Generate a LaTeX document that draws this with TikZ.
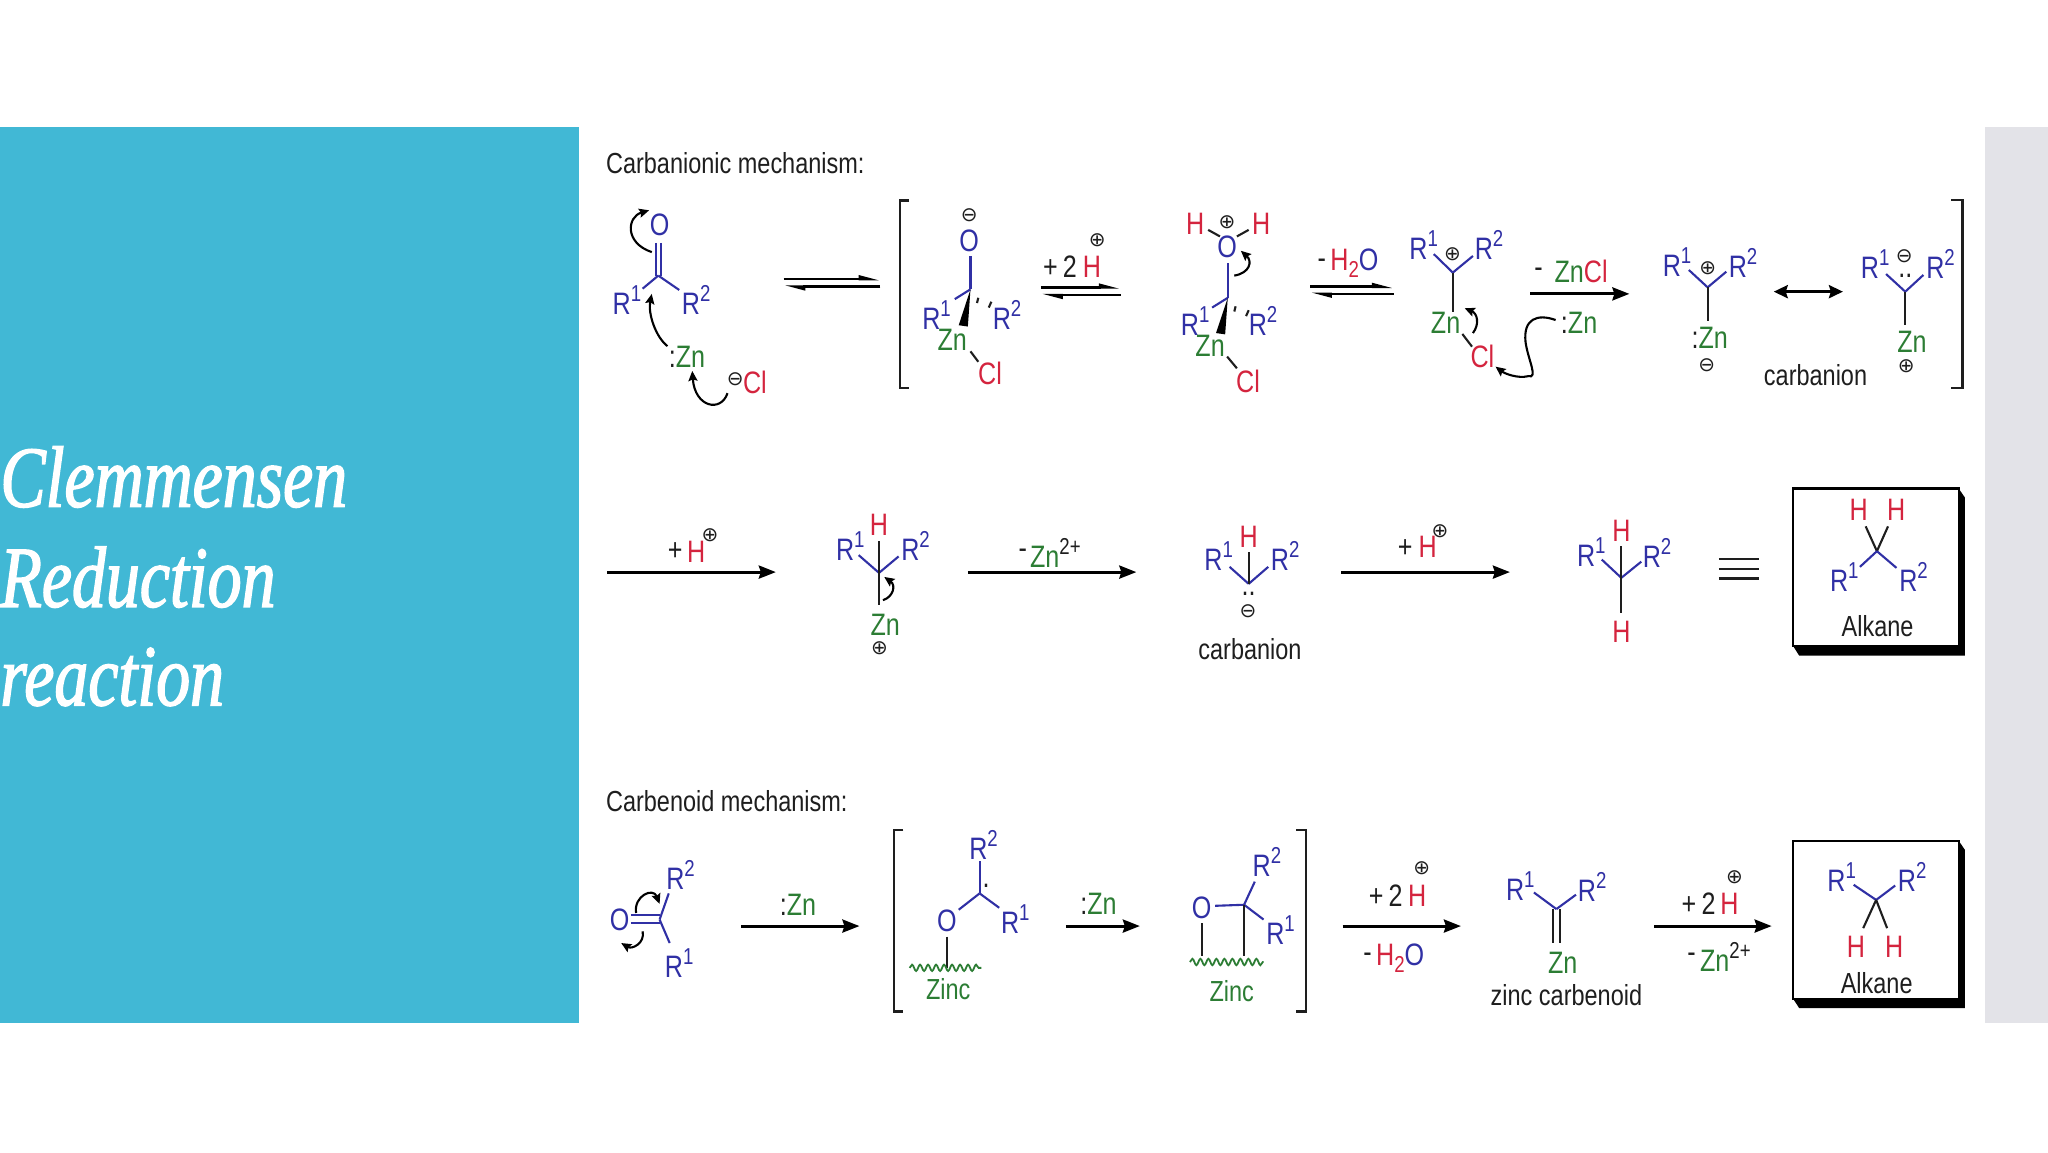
\documentclass[tikz,border=0pt]{standalone}
\usepackage{fontspec}
\usetikzlibrary{arrows.meta,decorations.pathmorphing}
\setmainfont[FakeStretch=0.81]{Liberation Sans}
\newfontfamily\titlefont[FakeStretch=0.78,FakeBold=1.6]{Liberation Serif Italic}
\newfontfamily\symfont{DejaVu Sans}
\definecolor{cblue}{RGB}{48,48,165}
\definecolor{cred}{RGB}{212,36,62}
\definecolor{cgreen}{RGB}{44,125,52}
\definecolor{cink}{RGB}{30,30,30}
\definecolor{panel}{RGB}{65,184,213}
\definecolor{band}{RGB}{227,227,232}
\newcommand\mysup[1]{\raisebox{.42em}{\fontsize{11.5}{11.5}\selectfont #1}}
\newcommand\mysub[1]{\raisebox{-.22em}{\fontsize{11.5}{11.5}\selectfont #1}}
\newcommand\Ra{R\mysup{1}}
\newcommand\Rb{R\mysup{2}}
\newcommand\Hh{\textcolor{cred}{H}}
\newcommand\Znc{\textcolor{cgreen}{Zn}}
\newcommand\Water{\textcolor{cred}{H\mysub{2}}\textcolor{cblue}{O}}
% label: style, name, position, text
\newcommand\at[4]{\node[#1] (#2) at (#3) {#4};}
% bond: colour, from, new end name, end position
\newcommand\bd[4]{\coordinate (#3) at (#4); \draw[bond,#1] (#2) -- (#3);}
% two-ended line with named coordinates
\newcommand\seg[5]{\coordinate (#2a) at (#3); \coordinate (#2b) at (#4); \draw[#1] (#2a) -- (#2b);}
\newcommand\plusm[2]{\node[sym] (#1) at (#2) {⊕};}
\newcommand\minusm[2]{\node[sym] (#1) at (#2) {⊖};}
% reaction arrow
\newcommand\rxn[4]{\coordinate (#1a) at (#2,#4); \coordinate (#1b) at (#3,#4); \draw[rarrow] (#1a) -- (#1b);}
% equilibrium arrows
\newcommand\eqm[5]{\coordinate (#1a) at (#2,#4); \coordinate (#1b) at (#3,#4); \coordinate (#1c) at (#2,#5); \coordinate (#1d) at (#3,#5);
  \draw[harp] (#1a) -- (#1b); \draw[harp] (#1d) -- (#1c);}
% square bracket: name, x, tick x, top y, bottom y
\newcommand\brk[5]{\coordinate (#1a) at (#3,#4); \coordinate (#1b) at (#2,#4); \coordinate (#1c) at (#2,#5); \coordinate (#1d) at (#3,#5);
  \draw[bracket] (#1a) -- (#1b) -- (#1c) -- (#1d);}
% framed box with shadow: name, top, bottom, shadow bottom
\newcommand\shadowbox[4]{\coordinate (#1nw) at (1372.8,#2); \coordinate (#1ne) at (1499.6,#2); \coordinate (#1se) at (1499.6,#3); \coordinate (#1sw) at (1372.8,#3);
  \coordinate (#1s1) at (1504.4,#2+7); \coordinate (#1s2) at (1504.4,#4); \coordinate (#1s3) at (1377.5,#4);
  \fill[black] (#1ne) -- (#1s1) -- (#1s2) -- (#1s3) -- (#1sw) -- (#1se) -- cycle;
  \draw[black,line width=1.1pt,fill=white] (#1nw) rectangle (#1se);}
\tikzset{
  atom/.style={inner sep=0pt,outer sep=0pt,font=\fontsize{15.5}{17}\selectfont},
  rr/.style={atom,text=cblue},
  hh/.style={atom,text=cred},
  zz/.style={atom,text=cgreen},
  ink/.style={atom,text=cink},
  word/.style={inner sep=0pt,outer sep=0pt,font=\fontsize{14.5}{16}\selectfont,text=cink},
  zincword/.style={word,text=cgreen},
  heading/.style={word,anchor=west},
  sym/.style={inner sep=0pt,text=cink,font=\symfont\fontsize{10}{10}\selectfont},
  bond/.style={line width=1.05pt,cink},
  rarrow/.style={line width=1.5pt,black,-{Stealth[length=8.5pt,width=6.5pt,inset=1pt]}},
  bothway/.style={line width=1.5pt,black,{Stealth[length=7pt,width=6.5pt,inset=1pt]}-{Stealth[length=7pt,width=6.5pt,inset=1pt]}},
  harp/.style={line width=1.3pt,black,-{Stealth[harpoon,length=8pt,width=3.6pt,inset=0pt]}},
  curly/.style={line width=1.05pt,black,-{Stealth[length=5pt,width=4.5pt,inset=.8pt]}},
  bracket/.style={line width=1.2pt,cink},
  wavy/.style={line width=.9pt,cgreen,decorate,decoration={snake,segment length=4pt,amplitude=1.6pt}},
  titletext/.style={inner sep=0pt,anchor=base west,text=white,font=\titlefont\fontsize{43.5}{50}\selectfont},
}
\begin{document}
\begin{tikzpicture}[x=0.65306pt,y=-0.65306pt]
\useasboundingbox (0,0) rectangle (1568,882);
\fill[white] (0,0) rectangle (1568,882);
\fill[panel] (0,97) rectangle (443,783);
\fill[band] (1520,97) rectangle (1568,783);
\node[titletext] (t1) at (0,388) {Clemmensen};
\node[titletext] (t2) at (0,464.6) {Reduction};
\node[titletext] (t3) at (0,540) {reaction};

\node[heading] (h1) at (464,125) {Carbanionic mechanism:};
\node[heading] (h2) at (464,613.5) {Carbenoid mechanism:};

%% ---------- Row 1
% ketone
\at{rr}{m1O}{505,172}{O}
\coordinate (m1C) at (504,211);
\seg{bond,cblue}{m1d1}{502.5,186}{502.5,211}{}
\seg{bond,cblue}{m1d2}{506,186}{506,211}{}
\at{rr}{m1a}{480,230}{\Ra}
\at{rr}{m1b}{533,230}{\Rb}
\bd{cblue}{m1C}{m1e1}{492,221}
\bd{cblue}{m1C}{m1e2}{520,222}
\at{zz}{m1Z}{526,273}{\textcolor{cink}{:}Zn}
\minusm{m1m}{563,290}
\at{hh}{m1Cl}{578,293}{Cl}
\coordinate (c1a) at (499,193); \coordinate (c1b) at (497,161);
\draw[curly] (c1a) .. controls (478,186) and (480,166) .. (c1b);
\coordinate (c2a) at (511,265); \coordinate (c2b) at (499,225);
\draw[curly] (c2a) .. controls (502,258) and (496,240) .. (c2b);
\coordinate (c3a) at (557,301); \coordinate (c3b) at (530,284);
\draw[curly] (c3a) .. controls (552,316) and (532,312) .. (c3b);

\eqm{q1}{600}{674}{213.6}{219.5}
\brk{b1}{689}{696}{153.6}{297}

% tetrahedral oxide
\minusm{m2m}{742,165}
\at{rr}{m2O}{742,184}{O}
\coordinate (m2C) at (743,221.5);
\coordinate (m2o) at (743,196);
\draw[bond,cblue] (m2o) -- (m2C);
\at{rr}{m2a}{717,241}{\Ra}
\at{rr}{m2b}{771,241}{\Rb}
\bd{cblue}{m2C}{m2e}{731,229}
\seg{bond}{m2t1}{749,228}{748,232}{}
\seg{bond}{m2t2}{759,231}{757,235.5}{}
\coordinate (m2w1) at (734,249); \coordinate (m2w2) at (741,250);
\fill[black] (m2C) -- (m2w1) -- (m2w2) -- cycle;
\at{zz}{m2Z}{729,260}{Zn}
\seg{bond}{m2c}{743,269}{749,277}{}
\at{hh}{m2Cl}{758,286}{Cl}

\at{ink}{l1}{811.5,204}{+\,2}
\at{hh}{l1H}{836,204}{H}
\plusm{l1p}{840,184}
\eqm{q2}{797}{858}{220}{226}

% oxonium
\at{hh}{m3H1}{915,171}{H}
\plusm{m3p}{939.5,170}
\at{hh}{m3H2}{965.5,171}{H}
\at{rr}{m3O}{939.5,189}{O}
\seg{bond}{m3o1}{925,176}{934,181}{}
\seg{bond}{m3o2}{956,176}{947,181}{}
\coordinate (m3C) at (940,228);
\coordinate (m3o) at (940,201.6);
\draw[bond,cblue] (m3o) -- (m3C);
\at{rr}{m3a}{915,246}{\Ra}
\at{rr}{m3b}{967,246}{\Rb}
\bd{cblue}{m3C}{m3e}{928,235.5}
\seg{bond}{m3t1}{946,234.5}{945,238.5}{}
\seg{bond}{m3t2}{956,237.5}{954,242}{}
\coordinate (m3w1) at (931,255); \coordinate (m3w2) at (938,256);
\fill[black] (m3C) -- (m3w1) -- (m3w2) -- cycle;
\at{zz}{m3Z}{926.5,265}{Zn}
\seg{bond}{m3c}{939.5,273}{947,282}{}
\at{hh}{m3Cl}{955.5,292}{Cl}
\coordinate (c4a) at (945,211); \coordinate (c4b) at (950,192);
\draw[curly] (c4a) .. controls (957,209) and (959,200) .. (c4b);

\at{ink}{l2a}{1012,201.6}{-}
\at{atom}{l2b}{1037,201.6}{\Water}
\eqm{q3}{1003}{1067}{219.5}{225}

% cation with ZnCl
\at{rr}{m4a}{1090,187.5}{\Ra}
\at{rr}{m4b}{1140,187.5}{\Rb}
\plusm{m4p}{1112,194.5}
\coordinate (m4C) at (1112.3,208.7);
\bd{cblue}{m4C}{m4e1}{1097.7,194.5}
\bd{cblue}{m4C}{m4e2}{1127.7,196}
\bd{cink}{m4C}{m4e3}{1112.3,238.6}
\at{zz}{m4Z}{1106.8,247.5}{Zn}
\seg{bond}{m4c}{1119.6,255.7}{1127,265.4}{}
\at{hh}{m4Cl}{1135,273}{Cl}
\coordinate (c5a) at (1127.7,255); \coordinate (c5b) at (1121.4,236);
\draw[curly] (c5a) .. controls (1133,248) and (1131,240) .. (c5b);
\at{zz}{m4Y}{1209,247.5}{\textcolor{cink}{:}Zn}
\coordinate (c6a) at (1191,245); \coordinate (c6m) at (1168,262); \coordinate (c6b) at (1145,280.7);
\draw[curly] (c6a) .. controls (1177,240) and (1166,244) .. (c6m) .. controls (1170,276) and (1178,290) .. (1170,288) .. controls (1162,290) and (1152,286) .. (c6b);

\at{ink}{l3a}{1178,209}{-}
\at{atom}{l3b}{1210.5,208}{\Znc\textcolor{cred}{Cl}}
\rxn{a1}{1171.5}{1247.5}{225}

% cation
\at{rr}{m5a}{1284,201}{\Ra}
\at{rr}{m5b}{1334.5,201}{\Rb}
\plusm{m5p}{1307.4,205.4}
\coordinate (m5C) at (1307.4,220);
\bd{cblue}{m5C}{m5e1}{1293,206.7}
\bd{cblue}{m5C}{m5e2}{1321.7,208}
\bd{cink}{m5C}{m5e3}{1307.4,245.5}
\at{zz}{m5Z}{1309,259}{\textcolor{cink}{:}Zn}
\minusm{m5m}{1306.7,279.4}

\coordinate (dbla) at (1358,223.3); \coordinate (dblb) at (1411,223.3);
\draw[bothway] (dbla) -- (dblb);

% carbanion resonance form
\at{rr}{m6a}{1435.7,202}{\Ra}
\at{rr}{m6b}{1485.7,202}{\Rb}
\minusm{m6m}{1458,196}
\at{ink}{m6d}{1458.7,211}{..}
\coordinate (m6C) at (1458.7,223.3);
\bd{cblue}{m6C}{m6e1}{1444,209.8}
\bd{cblue}{m6C}{m6e2}{1472.6,210.5}
\bd{cink}{m6C}{m6e3}{1458.7,248.8}
\at{zz}{m6Z}{1463.8,261.6}{Zn}
\plusm{m6p}{1459.4,280.7}
\at{word}{m6t}{1390,287}{carbanion}
\brk{b2}{1502.5}{1494}{153}{297}

%% ---------- Row 2
\rxn{a2}{465}{594}{438}
\at{ink}{l4a}{517,422.5}{+}
\at{hh}{l4H}{533,422.5}{H}
\plusm{l4p}{543.5,410}

\at{hh}{m7H}{673,402}{H}
\at{rr}{m7a}{651,418}{\Ra}
\at{rr}{m7b}{701,418}{\Rb}
\coordinate (m7C) at (673,438.6);
\bd{cblue}{m7C}{m7e1}{657.4,425}
\bd{cblue}{m7C}{m7e2}{688,426}
\bd{cink}{m7C}{m7e3}{673,414}
\bd{cink}{m7C}{m7e4}{673,463}
\at{zz}{m7Z}{677.8,478.7}{Zn}
\plusm{m7p}{673.4,496.5}
\coordinate (c7a) at (676,459.5); \coordinate (c7b) at (677,441.7);
\draw[curly] (c7a) .. controls (684,457) and (686,448) .. (c7b);

\rxn{a3}{741}{870}{438}
\at{ink}{l5a}{783,424}{-}
\at{atom}{l5b}{808,423}{\Znc\textcolor{cink}{\mysup{2+}}}

\at{hh}{m8H}{956,411}{H}
\at{rr}{m8a}{933,426}{\Ra}
\at{rr}{m8b}{984,426}{\Rb}
\coordinate (m8C) at (956,447);
\bd{cblue}{m8C}{m8e1}{941.4,434}
\bd{cblue}{m8C}{m8e2}{971,434}
\bd{cink}{m8C}{m8e3}{956,422.5}
\at{ink}{m8d}{956,455}{..}
\minusm{m8m}{955.5,468}
\at{word}{m8t}{957,497}{carbanion}

\rxn{a4}{1027}{1156}{438}
\at{ink}{l6a}{1075.8,420}{+}
\at{hh}{l6H}{1093,419}{H}
\plusm{l6p}{1102.5,406.5}

\at{hh}{m9H1}{1241.3,406.5}{H}
\at{rr}{m9a}{1218.3,423}{\Ra}
\at{rr}{m9b}{1268.7,423}{\Rb}
\coordinate (m9C) at (1241.3,442.4);
\bd{cblue}{m9C}{m9e1}{1226.3,428.4}
\bd{cblue}{m9C}{m9e2}{1256.6,430}
\bd{cink}{m9C}{m9e3}{1241.3,418}
\bd{cink}{m9C}{m9e4}{1241.3,469.7}
\at{hh}{m9H2}{1241.3,484}{H}

\seg{line width=1.2pt,cink}{eq1}{1316,428}{1347,428}{}
\seg{line width=1.2pt,cink}{eq2}{1316,435.5}{1347,435.5}{}
\seg{line width=1.2pt,cink}{eq3}{1316,443}{1347,443}{}

\shadowbox{bx1}{374}{494.5}{502}
\at{hh}{n1H1}{1423,390.6}{H}
\at{hh}{n1H2}{1451.7,390.6}{H}
\coordinate (n1C) at (1437,422);
\bd{cink}{n1C}{n1e1}{1428.4,403}
\bd{cink}{n1C}{n1e2}{1445.5,403}
\bd{cblue}{n1C}{n1e3}{1424,434}
\bd{cblue}{n1C}{n1e4}{1452,434.8}
\at{rr}{n1a}{1412,442}{\Ra}
\at{rr}{n1b}{1465,442}{\Rb}
\at{word}{n1t}{1437.5,479.5}{Alkane}

%% ---------- Row 3
\at{rr}{k1O}{474.4,704}{O}
\coordinate (k1C) at (505,704);
\seg{bond,cblue}{k1d1}{483,700.4}{505,700.4}{}
\seg{bond,cblue}{k1d2}{483,707}{505,707}{}
\at{rr}{k1b}{521,670}{\Rb}
\at{rr}{k1a}{520,737.4}{\Ra}
\bd{cblue}{k1C}{k1e1}{512,684}
\bd{cblue}{k1C}{k1e2}{512.7,722}
\coordinate (c8a) at (487,699); \coordinate (c8b) at (505,692);
\draw[curly] (c8a) .. controls (485,686) and (500,679) .. (c8b);
\coordinate (c9a) at (492,713); \coordinate (c9b) at (475.6,722);
\draw[curly] (c9a) .. controls (494,722) and (484,727) .. (c9b);

\rxn{a5}{567.6}{658}{709}
\at{zz}{l7}{611,692.5}{\textcolor{cink}{:}Zn}
\brk{b3}{684.5}{691.6}{635.3}{774.4}

\at{rr}{k2b}{753,647}{\Rb}
\coordinate (k2C) at (750,684);
\bd{cblue}{k2C}{k2e1}{750,659.5}
\bd{cblue}{k2C}{k2e2}{765,695}
\bd{cblue}{k2C}{k2e3}{734,696.5}
\at{ink}{k2d}{755,678}{.}
\at{rr}{k2a}{777.3,704}{\Ra}
\at{rr}{k2O}{725,705}{O}
\coordinate (k2o) at (725,717); \coordinate (k2z) at (725,741);
\draw[bond] (k2o) -- (k2z);
\coordinate (k2wa) at (696.4,741); \coordinate (k2wb) at (751.4,741);
\draw[wavy] (k2wa) -- (k2wb);
\at{zincword}{k2Z}{726,757.5}{Zinc}

\rxn{a6}{816}{872.7}{709}
\at{zz}{l8}{841,692}{\textcolor{cink}{:}Zn}

\at{rr}{k3O}{920,695}{O}
\coordinate (k3C) at (952.5,692.7);
\bd{cblue}{k3C}{k3e1}{930.3,693.5}
\bd{cblue}{k3C}{k3e2}{960.7,675}
\bd{cblue}{k3C}{k3e3}{967.4,704}
\bd{cink}{k3C}{k3e4}{952.5,732}
\at{rr}{k3b}{970,660}{\Rb}
\at{rr}{k3a}{980.4,712}{\Ra}
\coordinate (k3o) at (920,707); \coordinate (k3z) at (920,732);
\draw[bond] (k3o) -- (k3z);
\coordinate (k3wa) at (911,736.5); \coordinate (k3wb) at (967.4,736.5);
\draw[wavy] (k3wa) -- (k3wb);
\at{zincword}{k3Z}{943,758.5}{Zinc}
\brk{b4}{999.7}{992.6}{635.3}{774.4}

\rxn{a7}{1028}{1118.5}{709}
\at{ink}{l9a}{1061,686}{+\,2}
\at{hh}{l9H}{1085,686}{H}
\plusm{l9p}{1088.5,664.6}
\at{ink}{l9c}{1047,733.5}{-}
\at{atom}{l9d}{1072,733.5}{\Water}

\at{rr}{k4a}{1164,678.7}{\Ra}
\at{rr}{k4b}{1219,678.7}{\Rb}
\coordinate (k4C) at (1191.6,696);
\bd{cblue}{k4C}{k4e1}{1174.4,683.3}
\bd{cblue}{k4C}{k4e2}{1206.6,685}
\seg{bond}{k4d1}{1189.2,696}{1189.2,722}{}
\seg{bond}{k4d2}{1194.5,696}{1194.5,722}{}
\at{zz}{k4Z}{1196.4,737.4}{Zn}
\at{word}{k4t}{1199.3,761.6}{zinc carbenoid}

\rxn{a8}{1266.5}{1356.4}{709}
\at{ink}{l10a}{1300.5,692}{+\,2}
\at{hh}{l10H}{1324,692}{H}
\plusm{l10p}{1328,671.5}
\at{ink}{l10c}{1295,733.5}{-}
\at{atom}{l10d}{1321,733}{\Znc\textcolor{cink}{\mysup{2+}}}

\shadowbox{bx2}{643.7}{764.7}{771.8}
\at{rr}{n2a}{1410,671.5}{\Ra}
\at{rr}{n2b}{1464,671.5}{\Rb}
\coordinate (n2C) at (1436.4,689);
\bd{cblue}{n2C}{n2e1}{1419.2,677.4}
\bd{cblue}{n2C}{n2e2}{1451,678}
\bd{cink}{n2C}{n2e3}{1426.5,710.6}
\bd{cink}{n2C}{n2e4}{1444.8,710.6}
\at{hh}{n2H1}{1421,724.6}{H}
\at{hh}{n2H2}{1450.3,724.6}{H}
\at{word}{n2t}{1436.8,752.5}{Alkane}
\end{tikzpicture}
\end{document}
